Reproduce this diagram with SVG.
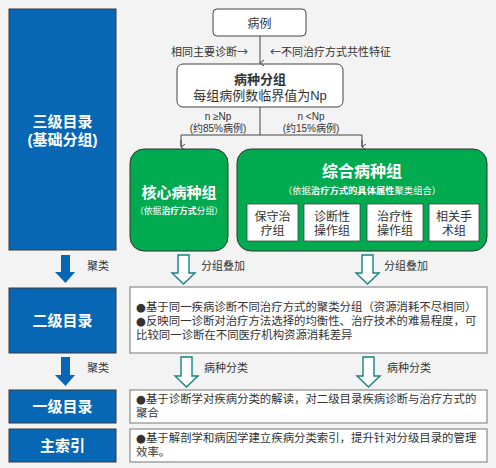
<svg xmlns="http://www.w3.org/2000/svg" width="496" height="468" viewBox="0 0 496 468">
<defs>
<style>
text{font-family:"Liberation Sans","Noto Sans CJK SC",sans-serif;fill:#333}
.cjk{font-family:"Noto Sans CJK SC",sans-serif}
.bul{font-family:"DejaVu Sans",sans-serif}
.lvl{fill:#0767B5;stroke:#3a3a3a;stroke-width:1}
.lvlt{fill:#fff;font-weight:bold;font-size:15px;text-anchor:middle}
.grn{fill:#00AA4F;stroke:#333;stroke-width:1}
.sub{fill:#fff;stroke:#444;stroke-width:0.8}
.subt{font-size:12px;text-anchor:middle}
.desc{fill:#fff;stroke:#777;stroke-width:1}
.dt{font-size:11.4px}
.conn{stroke:#444;stroke-width:1;fill:none}
.hol{fill:#fff;stroke:#15847F;stroke-width:1.4}
.blu{fill:#0767B5}
.lab{font-size:11px}
.w{fill:#fff}
</style>
<marker id="ah" markerWidth="8" markerHeight="8" refX="4" refY="7" orient="auto" markerUnits="userSpaceOnUse" viewBox="0 0 8 8">
<path d="M1,3 L4,7 L7,3" fill="none" stroke="#444" stroke-width="1"/>
</marker>
</defs>
<rect width="496" height="468" fill="#F3F3F3"/>

<g id="lvl3">
<rect class="lvl" x="9" y="9" width="107" height="241"/>
<text class="lvlt" x="62.5" y="127">三级目录</text>
<text class="lvlt" x="62.5" y="145">(基础分组)</text>
</g>
<g id="lvl2">
<rect class="lvl" x="9" y="288" width="107" height="65"/>
<text class="lvlt" x="62.5" y="326">二级目录</text>
</g>
<g id="lvl1">
<rect class="lvl" x="9" y="390" width="107" height="33"/>
<text class="lvlt" x="62.5" y="412">一级目录</text>
</g>
<g id="mainidx">
<rect class="lvl" x="9" y="429" width="107" height="33"/>
<text class="lvlt" x="62.5" y="451">主索引</text>
</g>

<g id="case">
<rect x="213" y="9" width="93" height="27" rx="4" fill="#fff" stroke="#444"/>
<text x="259.5" y="28" font-size="12" text-anchor="middle">病例</text>
</g>
<g id="group">
<rect x="177" y="64" width="166" height="43" rx="6" fill="#fff" stroke="#444"/>
<text x="260" y="84" font-size="13" font-weight="bold" text-anchor="middle">病种分组</text>
<text x="260" y="100" font-size="13" text-anchor="middle">每组病例数临界值为Np</text>
</g>

<g id="core">
<rect class="grn" x="130" y="149" width="98" height="102" rx="14"/>
<text class="w" x="179" y="198" font-size="15" font-weight="bold" text-anchor="middle">核心病种组</text>
<text class="w" x="179" y="214" font-size="8.8" text-anchor="middle">（依据<tspan class="w" font-weight="bold">治疗方式</tspan>分组）</text>
</g>
<g id="composite">
<rect class="grn" x="237" y="149" width="250" height="102" rx="14"/>
<text class="w" x="362" y="177" font-size="16" font-weight="bold" text-anchor="middle">综合病种组</text>
<text class="w" x="362" y="194" font-size="9.3" text-anchor="middle">（依据<tspan class="w" font-weight="bold">治疗方式的具体属性</tspan>聚类组合）</text>
</g>
<g id="sub1">
<rect class="sub" x="247" y="204" width="51" height="37"/>
<text class="subt" x="272.5" y="221">保守治</text>
<text class="subt" x="272.5" y="235">疗组</text>
</g>
<g id="sub2">
<rect class="sub" x="304" y="204" width="56" height="37"/>
<text class="subt" x="332" y="221">诊断性</text>
<text class="subt" x="332" y="235">操作组</text>
</g>
<g id="sub3">
<rect class="sub" x="367" y="204" width="56" height="37"/>
<text class="subt" x="395" y="221">治疗性</text>
<text class="subt" x="395" y="235">操作组</text>
</g>
<g id="sub4">
<rect class="sub" x="429" y="204" width="50" height="37"/>
<text class="subt" x="454" y="221">相关手</text>
<text class="subt" x="454" y="235">术组</text>
</g>

<g id="desc2">
<rect class="desc" x="130" y="287" width="357" height="66"/>
<text class="dt" x="136" y="311"><tspan class="bul">●</tspan>基于同一疾病诊断不同治疗方式的聚类分组（资源消耗不尽相同）</text>
<text class="dt" x="136" y="325"><tspan class="bul">●</tspan>反映同一诊断对治疗方法选择的均衡性、治疗技术的难易程度，可</text>
<text class="dt" x="136" y="339">比较同一诊断在不同医疗机构资源消耗差异</text>
</g>
<g id="desc1">
<rect class="desc" x="130" y="390" width="357" height="33"/>
<text class="dt" x="136" y="403"><tspan class="bul">●</tspan>基于诊断学对疾病分类的解读，对二级目录疾病诊断与治疗方式的</text>
<text class="dt" x="136" y="417">聚合</text>
</g>
<g id="descidx">
<rect class="desc" x="130" y="429" width="357" height="33"/>
<text class="dt" x="136" y="442"><tspan class="bul">●</tspan>基于解剖学和病因学建立疾病分类索引，提升针对分级目录的管理</text>
<text class="dt" x="136" y="456">效率。</text>
</g>

<g id="connectors">
<line class="conn" x1="260" y1="36" x2="260" y2="63" marker-end="url(#ah)"/>
<polyline class="conn" points="260,107 260,135"/>
<polyline class="conn" points="181,146 181,135 362,135 362,146"/>
<line class="conn" x1="181" y1="140" x2="181" y2="147" marker-end="url(#ah)"/>
<line class="conn" x1="362" y1="140" x2="362" y2="147" marker-end="url(#ah)"/>
<text class="lab" x="248" y="56" text-anchor="end">相同主要诊断<tspan class="cjk">→</tspan></text>
<text class="lab" x="270" y="56"><tspan class="cjk">←</tspan>不同治疗方式共性特征</text>
<text x="218" y="120" font-size="10" text-anchor="middle">n ≥Np</text>
<text x="218" y="132" font-size="10" text-anchor="middle">(约85%病例)</text>
<text x="311" y="120" font-size="10" text-anchor="middle">n &lt;Np</text>
<text x="311" y="132" font-size="10" text-anchor="middle">(约15%病例)</text>

<path class="blu" d="M61,255 H70 V272 H75 L65.5,283 L55,272 H61 Z"/>
<text class="lab" x="87" y="270">聚类</text>
<path class="blu" d="M61,357 H70 V375 H75 L65.5,386 L55,375 H61 Z"/>
<text class="lab" x="87" y="372">聚类</text>

<path class="hol" d="M178,255 H189 V273 H195 L183.5,284 L172,273 H178 Z"/>
<text class="lab" x="201" y="270">分组叠加</text>
<path class="hol" d="M362,255 H373 V273 H379 L367.5,284 L356,273 H362 Z"/>
<text class="lab" x="384" y="270">分组叠加</text>

<path class="hol" d="M181,357 H192 V376 H198 L186.5,387 L175,376 H181 Z"/>
<text class="lab" x="204" y="372">病种分类</text>
<path class="hol" d="M363,357 H374 V376 H380 L368.5,387 L357,376 H363 Z"/>
<text class="lab" x="387" y="372">病种分类</text>
</g>
</svg>
